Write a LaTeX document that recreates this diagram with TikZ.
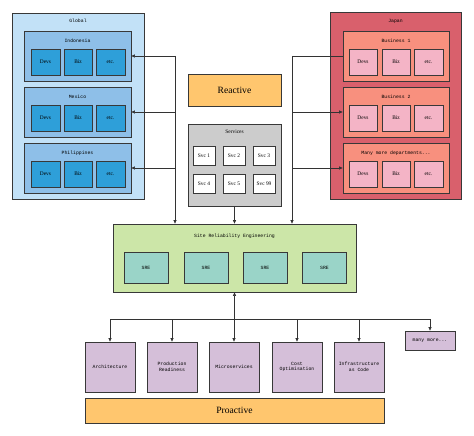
\documentclass[tikz,border=0pt]{standalone}
\usepackage{fontspec}
\setmainfont{Liberation Serif}
\setmonofont{Liberation Mono}
\usetikzlibrary{arrows.meta}
\definecolor{cglob}{HTML}{C2E1F7}
\definecolor{creg}{HTML}{8EBFE8}
\definecolor{cinb}{HTML}{2E9FD9}
\definecolor{cjap}{HTML}{D9606C}
\definecolor{cbus}{HTML}{F8907E}
\definecolor{cinj}{HTML}{F4B4C6}
\definecolor{cgray}{HTML}{CCCCCC}
\definecolor{csre}{HTML}{CCE6A8}
\definecolor{csrei}{HTML}{9AD4C8}
\definecolor{cpur}{HTML}{D5BFD9}
\definecolor{corg}{HTML}{FFC66E}
\definecolor{cline}{HTML}{333333}
\tikzset{
  bx/.style={draw=black!78, line width=0.7pt, inner sep=0pt},
  mono/.style={font=\ttfamily\fontsize{4.8}{5.6}\selectfont, align=center},
  ser/.style={font=\fontsize{5.4}{6.4}\selectfont},
  big/.style={font=\fontsize{9.6}{11}\selectfont},
  con/.style={draw=cline, line width=0.6pt},
  arr/.style={con, -{Triangle[length=3.5pt,width=3pt]}},
}
\newcommand{\bxn}[7]{% name, cx, cy, w, h, fill, text
  \node[bx, fill=#6, minimum width=#4pt, minimum height=#5pt] (#1) at (#2,#3) {#7};}
\newcommand{\manydep}{Many more departments...}
\newcommand{\manymore}{many more...}
\begin{document}
\begin{tikzpicture}[x=1pt,y=-1pt]
\useasboundingbox (0,0) rectangle (474,436);
% Global
\bxn{glob}{78}{106}{132}{186}{cglob}{}
\node[mono] (globl) at (78,21) {Global};
\foreach \n/\t/\cy in {indo/Indonesia/56, mex/Mexico/112, phil/Philippines/168}{
  \bxn{\n}{77.5}{\cy}{107}{50}{creg}{}
  \node[mono] (\n l) at (77.5,\cy-15) {\t};
  \node[bx, fill=cinb, minimum width=29pt, minimum height=26pt, ser] (\n d) at (45.5,\cy+6) {Devs};
  \node[bx, fill=cinb, minimum width=28pt, minimum height=26pt, ser] (\n b) at (78,\cy+6) {Biz};
  \node[bx, fill=cinb, minimum width=29pt, minimum height=26pt, ser] (\n e) at (110.5,\cy+6) {etc.};
}
% Japan
\bxn{jap}{395.5}{105.5}{131}{187}{cjap}{}
\node[mono] (japl) at (395.5,21) {Japan};
\foreach \n/\t/\cy in {bone/Business 1/56, btwo/Business 2/112, bmore/\manydep/168}{
  \bxn{\n}{396}{\cy}{106}{50}{cbus}{}
  \node[mono] (\n l) at (396,\cy-15) {\t};
  \node[bx, fill=cinj, minimum width=28pt, minimum height=26pt, ser] (\n d) at (363,\cy+6) {Devs};
  \node[bx, fill=cinj, minimum width=28pt, minimum height=26pt, ser] (\n b) at (396,\cy+6) {Biz};
  \node[bx, fill=cinj, minimum width=29pt, minimum height=26pt, ser] (\n e) at (428.5,\cy+6) {etc.};
}
% Reactive
\node[bx, fill=corg, minimum width=93pt, minimum height=32pt, big] (react) at (234.5,90) {Reactive};
% Services
\bxn{svc}{234.5}{165}{93}{82}{cgray}{}
\node[ser] (svcl) at (234.5,132) {Services};
\foreach \n/\t/\cx/\cy in {sa/Svc 1/204/155.5, sb/Svc 2/234/155.5, sc/Svc 3/264/155.5, sd/Svc 4/204/183.5, se/Svc 5/234/183.5, sf/Svc 99/264/183.5}{
  \node[bx, fill=white, minimum width=22pt, minimum height=19pt, ser] (\n) at (\cx,\cy) {\t};
}
% SRE
\bxn{sre}{234.5}{258}{243}{68}{csre}{}
\node[mono] (srel) at (234.5,236) {Site Reliability Engineering};
\foreach \n/\cx in {ra/146, rb/206, rc/265, rd/324.5}{
  \node[bx, fill=csrei, minimum width=44pt, minimum height=31pt, mono] (\n) at (\cx,267.5) {SRE};
}
% Bottom
\foreach \n/\t/\cx in {arch/Architecture/110, prod/{Production\\Readiness}/172, micro/Microservices/234, cost/{Cost\\Optimisation}/297, iac/{Infrastructure\\as Code}/359}{
  \node[bx, fill=cpur, minimum width=50pt, minimum height=50pt, mono] (\n) at (\cx,367) {\t};
}
\node[bx, fill=cpur, minimum width=50pt, minimum height=19pt, mono] (many) at (430,340.5) {\manymore};
\node[bx, fill=corg, minimum width=299pt, minimum height=25pt, big] (proact) at (234.5,410.5) {Proactive};
% Connectors
\coordinate (lj) at (175,56);
\coordinate (rj) at (292,56);
\coordinate (bus) at (234.5,319);
\draw[arr] (lj) -- (indo.east |- lj);
\draw[arr] (lj |- mex.east) -- (mex.east);
\draw[arr] (lj |- phil.east) -- (phil.east);
\draw[arr] (lj) -- (lj |- sre.north);
\draw[con] (rj) -- (bone.west |- rj);
\draw[arr] (rj |- btwo.west) -- (btwo.west);
\draw[arr] (rj |- bmore.west) -- (bmore.west);
\draw[arr] (rj) -- (rj |- sre.north);
\draw[arr] (svc.south) -- (sre.north);
\draw[arr] (bus) -- (sre.south);
\draw[con] (arch.north |- bus) -- (many.north |- bus);
\foreach \n in {arch, prod, micro, cost, iac, many}{
  \draw[arr] (\n.north |- bus) -- (\n.north);
}
\end{tikzpicture}
\end{document}
